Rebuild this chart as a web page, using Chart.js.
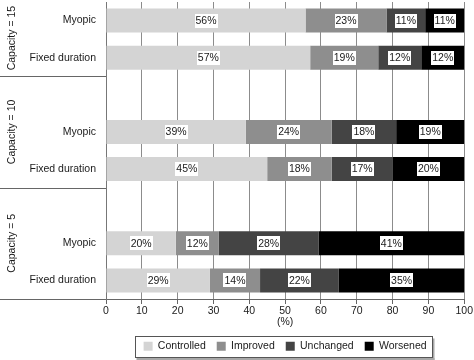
<!DOCTYPE html>
<html><head><meta charset="utf-8">
<script src="https://cdn.jsdelivr.net/npm/chart.js@4/dist/chart.umd.min.js"></script>
<style>html,body{margin:0;padding:0;background:#fff}#w{width:474px;height:360px}</style>
</head><body><div id="w"><canvas id="c"></canvas></div>
<script>
const rowLabels = ["Myopic", "Fixed duration", "", "Myopic", "Fixed duration", "", "Myopic", "Fixed duration"];
const groupLabels = ["Capacity = 15", "Capacity = 10", "Capacity = 5"];
const groupRows = [[0, 2], [2, 5], [5, 8]]; // row index ranges of each group
const seriesNames = ["Controlled", "Improved", "Unchanged", "Worsened"];
const controlled = [55.7, 57, null, 39, 45, null, 19.5, 29];
const improved   = [22.6, 19, null, 24, 18, null, 12, 14];
const unchanged  = [10.8, 12, null, 18, 17, null, 27.8, 22];
const worsened   = [10.9, 12, null, 19, 20, null, 40.7, 35];
const xTicks = [0, 10, 20, 30, 40, 50, 60, 70, 80, 90, 100];

const FONT = 'Arial, "Liberation Sans", Helvetica, sans-serif';
const TXT = '#1a1a1a';
const colors = ['#d4d4d4', '#8e8e8e', '#444444', '#000000'];
const seriesData = [controlled, improved, unchanged, worsened];

const deco = {
  id: 'deco',
  afterDatasetsDraw(chart) {
    const ctx = chart.ctx;
    ctx.save();
    ctx.font = '10.5px ' + FONT;
    ctx.textAlign = 'center';
    ctx.textBaseline = 'middle';
    chart.data.datasets.forEach((ds, i) => {
      const meta = chart.getDatasetMeta(i);
      meta.data.forEach((el, j) => {
        const v = ds.data[j];
        if (v == null) return;
        const cx = (el.x + el.base) / 2, cy = el.y;
        const t = Math.round(v) + '%';
        const w = ctx.measureText(t).width + 2;
        ctx.fillStyle = '#fff';
        ctx.fillRect(Math.round(cx - w / 2), Math.round(cy - 7), Math.round(w), 14);
        ctx.fillStyle = TXT;
        ctx.fillText(t, cx, cy + 0.5);
      });
    });
    ctx.restore();
  },
  afterDraw(chart) {
    const ctx = chart.ctx, a = chart.chartArea;
    const step = (a.bottom - a.top) / rowLabels.length;
    ctx.save();
    ctx.strokeStyle = '#666';
    ctx.lineWidth = 1;
    ctx.beginPath();
    ctx.moveTo(0, Math.round(a.bottom) + 0.5);
    ctx.lineTo(a.left, Math.round(a.bottom) + 0.5);
    ctx.stroke();
    groupRows.forEach((g, k) => {
      if (k === 0) return;
      const y = Math.round(a.top + g[0] * step) + 0.5;
      ctx.beginPath(); ctx.moveTo(0, y); ctx.lineTo(a.left, y); ctx.stroke();
    });
    ctx.fillStyle = TXT;
    ctx.font = '10.5px ' + FONT;
    ctx.textAlign = 'center';
    ctx.textBaseline = 'middle';
    groupRows.forEach((g, k) => {
      const y0 = k === 0 ? 0 : a.top + g[0] * step;
      const y1 = a.top + g[1] * step;
      ctx.save();
      ctx.translate(12, (y0 + y1) / 2);
      ctx.rotate(-Math.PI / 2);
      ctx.fillText(groupLabels[k], 0, 0);
      ctx.restore();
    });
    const lg = chart.legend;
    if (lg && lg.legendHitBoxes && lg.legendHitBoxes.length) {
      const hb = lg.legendHitBoxes;
      const l = Math.round(hb[0].left - 9) + 0.5;
      const r = Math.round(hb[hb.length - 1].left + hb[hb.length - 1].width + 5) + 0.5;
      const cy = hb[0].top + hb[0].height / 2;
      const t = Math.round(cy - 10.5) + 0.5, b = Math.round(cy + 10.5) + 0.5;
      ctx.fillStyle = '#a8a8a8';
      ctx.fillRect(l + 1, b + 0.5, r - l + 1, 2);
      ctx.fillRect(r + 0.5, t + 2, 1.5, b - t + 1);
      ctx.strokeStyle = '#555';
      ctx.strokeRect(l, t, r - l, b - t);
    }
    ctx.restore();
  }
};

new Chart(document.getElementById('c'), {
  type: 'bar',
  data: {
    labels: rowLabels,
    datasets: seriesNames.map((n, i) => ({
      label: n,
      data: seriesData[i],
      backgroundColor: colors[i],
      borderWidth: 0,
      barPercentage: 0.645,
      categoryPercentage: 1
    }))
  },
  options: {
    indexAxis: 'y',
    responsive: true,
    maintainAspectRatio: false,
    animation: false,
    layout: { padding: { top: 2, right: 9, left: 0, bottom: 4 } },
    plugins: {
      legend: {
        position: 'bottom',
        fullSize: false,
        maxHeight: 26,
        labels: {
          boxWidth: 9, boxHeight: 9, padding: 11,
          color: TXT,
          font: { family: FONT, size: 10.5 }
        }
      },
      tooltip: { enabled: false }
    },
    scales: {
      x: {
        stacked: true,
        min: 0, max: 100,
        afterBuildTicks(s) { s.ticks = xTicks.map(v => ({ value: v })); },
        afterFit(s) { s.height = 31; },
        grid: { color: '#8c8c8c', lineWidth: 1, drawTicks: true, tickLength: 5, tickColor: '#666' },
        border: { display: true, color: '#666' },
        ticks: { color: TXT, font: { family: FONT, size: 10.5 }, padding: 1, maxRotation: 0 },
        title: { display: true, text: '(%)', color: TXT, font: { family: FONT, size: 10.5 }, padding: { top: 0, bottom: 1.7 } }
      },
      y: {
        stacked: true,
        afterFit(s) { s.width = 106; s.paddingTop = 0; s.paddingBottom = 0; },
        grid: { display: false, drawTicks: false },
        border: { display: true, color: '#777' },
        ticks: { color: TXT, font: { family: FONT, size: 10.5 }, padding: 10, autoSkip: false }
      }
    }
  },
  plugins: [deco]
});
</script>
</body></html>
